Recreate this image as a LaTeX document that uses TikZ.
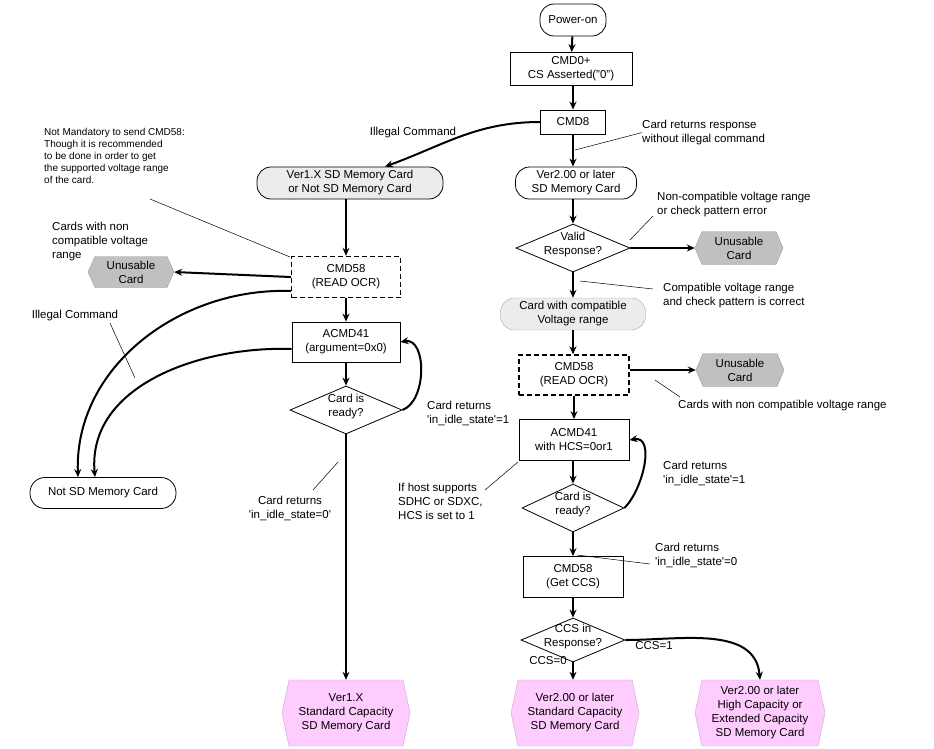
\documentclass[tikz,border=0pt]{standalone}
\usepackage{fontspec}
\setmainfont{Liberation Sans}
\usetikzlibrary{shapes.geometric,arrows.meta}
\newcommand{\dtext}[1]{\smash{\makebox[0pt]{\begin{tabular}{@{}c@{}}#1\end{tabular}}}}
\newcommand{\q}{\textquotesingle}
\newcommand{\hexa}[7]{%
  \path[fill=#5,draw=#5!80!black,line width=0.4pt] ({#1-#3},#2) -- ({#1-#3+7},{#2-#4}) -- ({#1+#3-7},{#2-#4}) -- ({#1+#3},#2) -- ({#1+#3-7},{#2+#4}) -- ({#1-#3+7},{#2+#4}) -- cycle;
  \node[txt,minimum width={2*#3},minimum height={2*#4}] (#6) at (#1,#2) {#7};}
\definecolor{hgray}{RGB}{192,192,192}
\definecolor{lgray}{RGB}{236,236,236}
\definecolor{pinkc}{RGB}{255,204,255}
\begin{document}
\begin{tikzpicture}[x=1pt,y=-1pt,
  every node/.style={font=\fontsize{11.5}{14}\selectfont,align=center},
  txt/.style={inner sep=0},
  box/.style={draw,inner sep=1pt,line width=0.8pt},
  rnd/.style={draw,rounded corners=14pt,inner sep=1pt,line width=0.8pt},
  dbox/.style={draw,dashed,dash pattern=on 5pt off 3pt,inner sep=1pt,line width=1.4pt},
  dia/.style={draw,diamond,inner sep=0,line width=0.8pt},
  arr/.style={-{Stealth[length=8pt,width=7pt]},line width=2pt},
  note/.style={line width=0.5pt},
  lbl/.style={inner sep=0,align=left,anchor=north west}]
\useasboundingbox (0,0) rectangle (934,748);
% right column
\node[rnd,minimum width=66,minimum height=32] (pw) at (573,20) {Power-on};
\node[box,minimum width=122,minimum height=33] (c0) at (571,69) {CMD0+\\CS Asserted("0")};
\node[box,minimum width=65,minimum height=24] (c8) at (573,122) {CMD8};
\node[rnd,minimum width=121,minimum height=32] (v2) at (576,183) {Ver2.00 or later\\SD Memory Card};
\node[dia,minimum width=114,minimum height=48] (vr) at (573,248) {\dtext{Valid\\Response?}};
\hexa{739}{248}{44}{16.5}{hgray}{u1}{Unusable\\Card}
\node[rnd,fill=lgray,draw=lgray!70!black,line width=0.4pt,minimum width=145,minimum height=32] (cc) at (573,314) {Card with compatible\\Voltage range};
\node[dbox,minimum width=110,minimum height=40] (r58) at (574,375) {CMD58\\(READ OCR)};
\hexa{740}{370}{44}{16.5}{hgray}{u2}{Unusable\\Card}
\node[box,minimum width=110,minimum height=41] (ra) at (574,440) {ACMD41\\with HCS=0or1};
\node[dia,minimum width=102,minimum height=48] (rr) at (573,508) {\dtext{Card is\\ready?}};
\node[box,minimum width=100,minimum height=41] (g58) at (573,577) {CMD58\\(Get CCS)};
\node[dia,minimum width=104,minimum height=44] (ccs) at (573,640) {\dtext{CCS in\\Response?}};
\hexa{575}{713}{64}{33}{pinkc}{f2}{Ver2.00 or later\\Standard Capacity\\SD Memory Card}
\hexa{760}{713}{65}{33}{pinkc}{f3}{Ver2.00 or later\\High Capacity or\\Extended Capacity\\SD Memory Card}
% left column
\node[rnd,fill=lgray,minimum width=186,minimum height=32] (v1) at (350,183) {Ver1.X SD Memory Card\\or Not SD Memory Card};
\node[dbox,minimum width=109,minimum height=41] (l58) at (346,277) {CMD58\\(READ OCR)};
\hexa{131}{272}{43}{15.5}{hgray}{u0}{Unusable\\Card}
\node[box,minimum width=108,minimum height=40] (la) at (346,342) {ACMD41\\(argument=0x0)};
\node[dia,minimum width=112,minimum height=48] (lr) at (346,410) {\dtext{Card is\\ready?}};
\node[draw,rounded corners=15pt,minimum width=146,minimum height=31,line width=0.8pt] (nsd) at (103,493) {Not SD Memory Card};
\hexa{346}{713}{64}{33}{pinkc}{f1}{Ver1.X\\Standard Capacity\\SD Memory Card}
% connectors
\draw[arr] (pw) -- (c0);
\draw[arr] (c0.south -| c8) -- (c8);
\draw[arr] (c8) -- (v2.north -| c8);
\draw[arr] (v2.south -| vr) -- (vr);
\draw[arr] (vr.east) -- (u1.west);
\draw[arr] (vr) -- (cc);
\draw[arr] (cc) -- (r58.north -| cc);
\draw[arr] (r58.east |- u2.west) -- (u2.west);
\draw[arr] (r58) -- (ra);
\draw[arr] (ra.south -| rr) -- (rr);
\draw[arr] (rr.east) to[out=45,in=10] (ra.east);
\draw[arr] (rr) -- (g58);
\draw[arr] (g58) -- (ccs);
\draw[arr] (ccs.south) -- (f2.north -| ccs);
\draw[arr] (ccs.east) to[out=0,in=95] (f3.north);
\draw[arr] (c8.west) to[out=180,in=20] ([xshift=35pt]v1.north);
\draw[arr] (v1.south -| l58) -- (l58);
\draw[arr] (l58.west) -- (u0.east);
\draw[arr] (l58) -- (la);
\draw[arr] (la) -- (lr);
\draw[arr] (lr.east) to[out=20,in=10] (la.east);
\draw[arr] (lr.south) -- (f1.north);
\draw[arr] ([yshift=-14pt]l58.west) to[out=178,in=92] ([xshift=-25pt]nsd.north);
\draw[arr] ([yshift=-7pt]la.west) to[out=178,in=95] ([xshift=-8pt]nsd.north);
% labels
\node[lbl] (t1) at (642,120) {Card returns response\\without illegal command};
\draw[note] (t1.west) -- (575,150);
\node[lbl] (t2) at (657,192) {Non-compatible voltage range\\or check pattern error};
\draw[note] (653,216) -- (630,240);
\node[lbl] (t3) at (663,283) {Compatible voltage range\\and check pattern is correct};
\draw[note] (653,289) -- (580,281);
\node[lbl] (t4) at (678,400) {Cards with non compatible voltage range};
\draw[note] (655,380) -- (680,397);
\node[lbl] (t5) at (398,483) {If host supports\\SDHC or SDXC,\\HCS is set to 1};
\draw[note] (485,490) -- (518,462);
\node[lbl] (t6) at (663,461) {Card returns\\\q in\_idle\_state\q=1};
\node[lbl] (t7) at (655,543) {Card returns\\\q in\_idle\_state\q=0};
\draw[note] (577,555) -- (650,564);
\node[txt] (t8) at (548,661) {CCS=0};
\node[txt] (t9) at (654,646) {CCS=1};
\node[txt] (t10) at (413,133) {Illegal Command};
\node[lbl,font=\fontsize{10}{12}\selectfont] (t11) at (44,128) {Not Mandatory to send CMD58:\\Though it is recommended\\to be done in order to get\\the supported voltage range\\of the card.};
\draw[note] (150,199) -- (290,257);
\node[lbl] (t12) at (52,222) {Cards with non\\compatible voltage\\range};
\node[txt] (t13) at (75,316) {Illegal Command};
\draw[note] (110,323) -- (135,378);
\node[lbl] (t14) at (427,401) {Card returns\\\q in\_idle\_state\q=1};
\node[txt] (t15) at (290,508) {Card returns\\\q in\_idle\_state=0\q};
\draw[note] (313,490) -- (338,462);
\end{tikzpicture}
\end{document}
